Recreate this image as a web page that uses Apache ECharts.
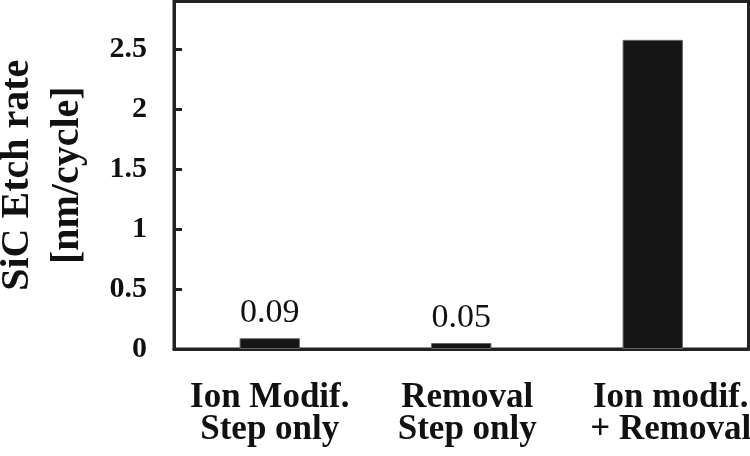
<!DOCTYPE html>
<html>
<head>
<meta charset="utf-8">
<script src="https://cdn.jsdelivr.net/npm/echarts@6/dist/echarts.min.js"></script>
<style>
  html, body { margin: 0; padding: 0; background: #fff; }
  #chart { width: 750px; height: 456px; }
</style>
</head>
<body>
<div id="chart"></div>
<script>
// data
var categories = ['Ion Modif.\nStep only', 'Removal\nStep only', 'Ion modif.\n+ Removal'];
var etchRate = [0.09, 0.05, 2.58];
var showLabel = [true, true, false];
var labelShift = [0, 12, 36]; // labels in the original are not quite centred

var serif = '"Liberation Serif", "Times New Roman", serif';

var myChart = echarts.init(document.getElementById('chart'));
var option = {
    backgroundColor: '#fff',
    animation: false,
    grid: {
        left: 174,
        right: 1.5,
        top: 1.5,
        bottom: 107,
        containLabel: false,
        outerBoundsMode: 'none',
        show: true,
        borderColor: '#222',
        borderWidth: 3
    },
    xAxis: {
        type: 'category',
        data: categories.map(function (c, i) {
            return { value: c, textStyle: { padding: [0, 0, 0, labelShift[i]] } };
        }),
        axisLine: { lineStyle: { color: '#222', width: 3 } },
        axisTick: { show: false },
        axisLabel: {
            fontFamily: serif,
            fontWeight: 'bold',
            fontSize: 35,
            lineHeight: 32,
            color: '#111',
            margin: 33,
            interval: 0
        }
    },
    yAxis: {
        type: 'value',
        min: 0,
        max: 2.9,
        interval: 0.5,
        name: 'SiC Etch rate\n[nm/cycle]',
        nameLocation: 'middle',
        nameGap: 81,
        nameTextStyle: {
            fontFamily: serif,
            fontWeight: 'bold',
            fontSize: 40,
            lineHeight: 50,
            color: '#111'
        },
        splitLine: { show: false },
        axisLine: { show: true, lineStyle: { color: '#222', width: 3 } },
        axisTick: { show: true, inside: true, length: 8, lineStyle: { color: '#222', width: 3 } },
        axisLabel: {
            fontFamily: serif,
            fontWeight: 'bold',
            fontSize: 30,
            color: '#111',
            margin: 27,
            showMaxLabel: false,
            formatter: function (v) { return String(v); }
        }
    },
    series: [{
        type: 'bar',
        barWidth: '31.5%',
        data: etchRate.map(function (v, i) {
            return {
                value: v,
                label: { show: showLabel[i] }
            };
        }),
        itemStyle: { color: '#151515', borderColor: '#666', borderWidth: 1 },
        label: {
            position: 'top',
            distance: 8,
            fontFamily: serif,
            fontSize: 34,
            color: '#111'
        }
    }]
};
myChart.setOption(option);
</script>
</body>
</html>
